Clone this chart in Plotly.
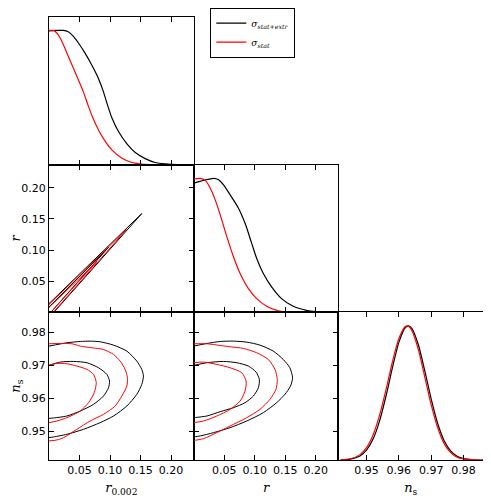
import plotly.graph_objects as go
from plotly.subplots import make_subplots

# ---- 1D marginal of r_0.002 ----
r002_black_x = [0, 0.0109, 0.0234, 0.0315, 0.0397, 0.0479, 0.0588, 0.0696, 0.0806, 0.0887,
                0.0941, 0.1033, 0.1141, 0.1277, 0.1413, 0.1576, 0.1739, 0.2, 0.2283]
r002_black_p = [0.997, 1.0, 1.0, 0.99, 0.957, 0.908, 0.833, 0.746, 0.646, 0.55,
                0.47, 0.345, 0.245, 0.155, 0.09, 0.045, 0.016, 0.003, 0.0]
r002_red_x = [0, 0.007, 0.0124, 0.018, 0.0234, 0.0315, 0.0397, 0.0479, 0.056, 0.0642,
              0.0707, 0.0815, 0.0924, 0.1033, 0.1196, 0.1359, 0.1522, 0.1739]
r002_red_p = [1.0, 1.0, 0.983, 0.945, 0.895, 0.808, 0.721, 0.634, 0.546, 0.44,
              0.36, 0.255, 0.172, 0.108, 0.047, 0.016, 0.004, 0.0]

# ---- 1D marginal of r ----
r_black_x = [0, 0.0163, 0.0326, 0.0408, 0.0489, 0.0598, 0.0734, 0.0842, 0.0951, 0.1033,
             0.1141, 0.1277, 0.144, 0.163, 0.1848, 0.2, 0.2201]
r_black_p = [0.963, 0.983, 0.998, 0.988, 0.95, 0.875, 0.776, 0.663, 0.514, 0.401,
             0.289, 0.19, 0.102, 0.045, 0.015, 0.005, 0.0]
r_red_x = [0, 0.0109, 0.019, 0.0272, 0.0353, 0.0435, 0.0543, 0.0652, 0.0761, 0.0897,
           0.1033, 0.1196, 0.1359, 0.1522]
r_red_p = [0.993, 0.998, 0.983, 0.925, 0.838, 0.726, 0.564, 0.414, 0.289, 0.177,
           0.102, 0.045, 0.015, 0.0]

# ---- 1D marginal of n_s ----
ns_x = [0.942, 0.945, 0.948, 0.950, 0.952, 0.954, 0.956, 0.958, 0.960, 0.962, 0.963,
        0.964, 0.966, 0.968, 0.970, 0.972, 0.974, 0.976, 0.978, 0.980, 0.983, 0.986]
ns_black_p = [0.001, 0.0065, 0.030, 0.073, 0.154, 0.288, 0.473, 0.686, 0.876, 0.987, 1.0,
              0.981, 0.860, 0.665, 0.453, 0.272, 0.144, 0.068, 0.028, 0.010, 0.002, 0.0]
ns_red_p = [0.0015, 0.009, 0.040, 0.092, 0.185, 0.33, 0.52, 0.73, 0.905, 0.995, 0.997,
            0.965, 0.825, 0.62, 0.41, 0.24, 0.122, 0.055, 0.021, 0.008, 0.0015, 0.0]

# ---- 2D contours: r_0.002 vs r (thin degenerate ellipses) ----
rr_black_outer_x = [-0.01, 0, 0.152, 0.008, -0.01]
rr_black_outer_y = [-0.01, 0.014, 0.1585, 0, -0.01]
rr_red_outer_x = [-0.01, 0, 0.1265, 0.007, -0.01]
rr_red_outer_y = [-0.01, 0.0125, 0.1325, 0, -0.01]
rr_black_inner_x = [-0.01, 0, 0.0974, 0.003, -0.01]
rr_black_inner_y = [-0.01, 0.0085, 0.1042, 0, -0.01]
rr_red_inner_x = [-0.01, 0, 0.0784, 0.0028, -0.01]
rr_red_inner_y = [-0.01, 0.0078, 0.0816, 0, -0.01]

# ---- 2D contours: r_0.002 vs n_s ----
rn_black_outer_x = [0, 0.0294, 0.0512, 0.0675, 0.0839, 0.1057, 0.1275, 0.1438, 0.152, 0.1547,
                    0.152, 0.1438, 0.1275, 0.1057, 0.0839, 0.0567, 0.0294, 0.0076, 0]
rn_black_outer_y = [0.97577, 0.97678, 0.97718, 0.97728, 0.97708, 0.97607, 0.97426, 0.97124,
                    0.96872, 0.96671, 0.96419, 0.96117, 0.95764, 0.95462, 0.95261, 0.9506,
                    0.94908, 0.94828, 0.94808]
rn_black_inner_x = [0, 0.0185, 0.0403, 0.0621, 0.0812, 0.0948, 0.0991, 0.0975, 0.0893, 0.073,
                    0.0512, 0.0294, 0.0076, 0]
rn_black_inner_y = [0.96993, 0.97094, 0.97114, 0.97074, 0.96922, 0.96721, 0.9652, 0.96318,
                    0.96066, 0.95815, 0.95613, 0.95462, 0.95402, 0.95392]
rn_red_outer_x = [0, 0.0185, 0.0376, 0.0512, 0.0702, 0.0893, 0.1057, 0.1166, 0.1248, 0.1285,
                  0.1275, 0.1193, 0.1084, 0.0893, 0.0675, 0.0458, 0.024, 0.0131, 0]
rn_red_outer_y = [0.97648, 0.97658, 0.97648, 0.97577, 0.97527, 0.97476, 0.97325, 0.97124,
                  0.96872, 0.9662, 0.96369, 0.96066, 0.95764, 0.95513, 0.95311, 0.9506,
                  0.94808, 0.94737, 0.94707]
rn_red_inner_x = [0, 0.0131, 0.0294, 0.0458, 0.0621, 0.073, 0.0774, 0.0741, 0.0648, 0.0512,
                  0.0294, 0.0131, 0]
rn_red_inner_y = [0.97003, 0.97053, 0.97043, 0.96973, 0.96872, 0.96721, 0.96469, 0.96167,
                  0.95865, 0.95613, 0.95412, 0.95311, 0.95261]

# ---- 2D contours: r vs n_s ----
mn_black_outer_x = [0, 0.0217, 0.0435, 0.0652, 0.087, 0.1087, 0.1304, 0.1467, 0.1576, 0.162,
                    0.1587, 0.1495, 0.1359, 0.1141, 0.087, 0.0598, 0.0326, 0.0109, 0]
mn_black_outer_y = [0.97577, 0.97658, 0.97718, 0.97728, 0.97698, 0.97607, 0.97426, 0.97174,
                    0.96922, 0.9662, 0.96369, 0.96117, 0.95865, 0.95563, 0.95311, 0.9511,
                    0.94959, 0.94858, 0.94828]
mn_black_inner_x = [0, 0.0217, 0.0489, 0.0707, 0.0897, 0.1022, 0.1076, 0.106, 0.0978, 0.0842,
                    0.0652, 0.0435, 0.0217, 0.0054, 0]
mn_black_inner_y = [0.96993, 0.97074, 0.97114, 0.97074, 0.96973, 0.96792, 0.9657, 0.96318,
                    0.96066, 0.95865, 0.95714, 0.95593, 0.95462, 0.95422, 0.95412]
mn_red_outer_x = [0, 0.0217, 0.0435, 0.0598, 0.0815, 0.1033, 0.1223, 0.1332, 0.137, 0.1348,
                  0.125, 0.1087, 0.087, 0.0598, 0.038, 0.0163, 0.0027, 0]
mn_red_outer_y = [0.97648, 0.97648, 0.97597, 0.97557, 0.97507, 0.97376, 0.97174, 0.96872,
                  0.9657, 0.96268, 0.95966, 0.95664, 0.95412, 0.9516, 0.94959, 0.94777,
                  0.94727, 0.94717]
mn_red_inner_x = [0, 0.0163, 0.038, 0.0598, 0.0788, 0.0859, 0.0842, 0.0761, 0.0598, 0.038,
                  0.0163, 0]
mn_red_inner_y = [0.97074, 0.97094, 0.97023, 0.96922, 0.96771, 0.9652, 0.96218, 0.95915,
                  0.95664, 0.95462, 0.95311, 0.95261]

r_ticks = [0.05, 0.10, 0.15, 0.20]
ns_ticks = [0.95, 0.96, 0.97, 0.98]
label_black = "<i>σ</i><sub><i>stat+extr</i></sub>"
label_red = "<i>σ</i><sub><i>stat</i></sub>"

BLACK = "black"
RED = "red"

fig = make_subplots(
    rows=3, cols=3,
    specs=[[{}, None, None], [{}, {}, None], [{}, {}, {}]],
    horizontal_spacing=0, vertical_spacing=0,
)


def curve(x, y, color, row, col, name=None, width=1.2, shape="spline"):
    fig.add_trace(
        go.Scatter(
            x=x, y=y, mode="lines", name=name, showlegend=name is not None,
            line=dict(color=color, width=width, shape=shape, smoothing=0.7),
            hoverinfo="skip",
        ),
        row=row, col=col,
    )


# diagonal
curve(r002_black_x, r002_black_p, BLACK, 1, 1, name=label_black)
curve(r002_red_x, r002_red_p, RED, 1, 1, name=label_red)
curve(r_black_x, r_black_p, BLACK, 2, 2)
curve(r_red_x, r_red_p, RED, 2, 2)
curve(ns_x, ns_black_p, BLACK, 3, 3)
curve(ns_x, ns_red_p, RED, 3, 3)

# contours
for xs, ys, c in [
    (rr_black_outer_x, rr_black_outer_y, BLACK), (rr_black_inner_x, rr_black_inner_y, BLACK),
    (rr_red_outer_x, rr_red_outer_y, RED), (rr_red_inner_x, rr_red_inner_y, RED),
]:
    curve(xs, ys, c, 2, 1, width=1, shape="linear")
for xs, ys, c in [
    (rn_black_outer_x, rn_black_outer_y, BLACK), (rn_black_inner_x, rn_black_inner_y, BLACK),
    (rn_red_outer_x, rn_red_outer_y, RED), (rn_red_inner_x, rn_red_inner_y, RED),
]:
    curve(xs, ys, c, 3, 1, width=1)
for xs, ys, c in [
    (mn_black_outer_x, mn_black_outer_y, BLACK), (mn_black_inner_x, mn_black_inner_y, BLACK),
    (mn_red_outer_x, mn_red_outer_y, RED), (mn_red_inner_x, mn_red_inner_y, RED),
]:
    curve(xs, ys, c, 3, 2, width=1)

axis_common = dict(
    showline=True, linecolor="black", linewidth=1.2, mirror="ticks",
    ticks="inside", ticklen=5, tickwidth=1, tickcolor="black",
    showgrid=False, zeroline=False, tickformat=".2f", automargin=False,
    tickfont=dict(family="DejaVu Sans", size=11, color="black"),
)
fig.update_xaxes(**axis_common)
fig.update_yaxes(**axis_common)

R_RANGE = [0, 0.237]
NS_RANGE = [0.9413, 0.986]
P_RANGE = [0, 1.1]
title_font = dict(family="DejaVu Serif", size=13, color="black")

# x axes
for row, col in [(1, 1), (2, 1), (3, 1), (2, 2), (3, 2)]:
    fig.update_xaxes(range=R_RANGE, tickvals=r_ticks, row=row, col=col)
fig.update_xaxes(range=NS_RANGE, tickvals=ns_ticks, row=3, col=3)
for row, col in [(1, 1), (2, 1), (2, 2)]:
    fig.update_xaxes(showticklabels=False, row=row, col=col)
fig.update_xaxes(title=dict(text="<i>r</i><sub>0.002</sub>", font=title_font, standoff=6), row=3, col=1)
fig.update_xaxes(title=dict(text="<i>r</i>", font=title_font, standoff=6), row=3, col=2)
fig.update_xaxes(title=dict(text="<i>n</i><sub>s</sub>", font=title_font, standoff=6), row=3, col=3)

# y axes
for row, col in [(1, 1), (2, 2), (3, 3)]:
    fig.update_yaxes(range=P_RANGE, ticks="", showticklabels=False, mirror=True, row=row, col=col)
fig.update_yaxes(range=R_RANGE, tickvals=r_ticks, row=2, col=1,
                 title=dict(text="<i>r</i>", font=title_font, standoff=8))
fig.update_yaxes(range=NS_RANGE, tickvals=ns_ticks, row=3, col=1,
                 title=dict(text="<i>n</i><sub>s</sub>", font=title_font, standoff=8))
fig.update_yaxes(range=NS_RANGE, tickvals=ns_ticks, showticklabels=False, row=3, col=2)

# the page body adds an 8px offset, so the figure is sized to fill the rest of the window
fig.update_layout(
    width=483, height=494,
    margin=dict(l=40.7, r=8.3, t=9.3, b=42, autoexpand=False),
    paper_bgcolor="white", plot_bgcolor="white",
    showlegend=True,
    legend=dict(
        x=0.3717, y=1.021, xanchor="left", yanchor="top",
        bordercolor="black", borderwidth=1, bgcolor="white",
        font=dict(family="DejaVu Serif", size=9, color="black"),
        itemwidth=30, tracegroupgap=0,
    ),
)

fig.write_html("out.html")
